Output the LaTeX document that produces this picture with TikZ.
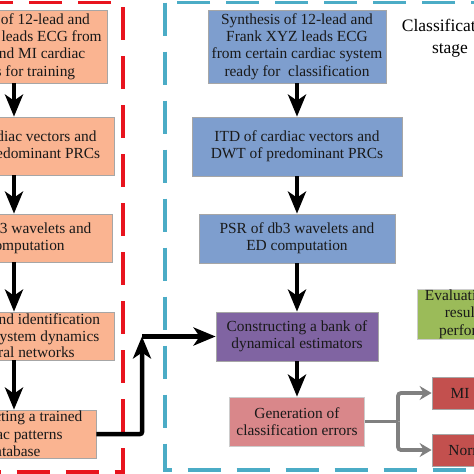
\documentclass[tikz,border=0pt]{standalone}
\usepackage{fontspec}
\setmainfont{Liberation Serif}
\usetikzlibrary{arrows.meta}

\definecolor{trainfill}{HTML}{FAB491}
\definecolor{testfill}{HTML}{7E9ECE}
\definecolor{bankfill}{HTML}{8064A2}
\definecolor{errfill}{HTML}{D9878A}
\definecolor{mifill}{HTML}{C3504E}
\definecolor{evalfill}{HTML}{9BBB59}
\definecolor{trainline}{HTML}{E8141E}
\definecolor{testline}{HTML}{4BACC6}

\tikzset{
	stepbox/.style={draw=black!35, line width=0.8pt, align=center, inner sep=0pt,
		text=black!90, font=\fontsize{15.4}{17.4}\selectfont},
	trainbox/.style={stepbox, fill=trainfill},
	testbox/.style={stepbox, fill=testfill},
	flowarrow/.style={line width=4.5pt, draw=black, rounded corners=2pt,
		-{Stealth[length=22pt, width=18pt, inset=6pt]}},
	outarrow/.style={line width=3.8pt, draw=black!50, rounded corners=3pt,
		-{Stealth[length=12pt, width=14pt, inset=4pt]}},
	stagedash/.style={line width=3.5pt, dash pattern=on 33pt off 16pt}
}

\begin{document}
\begin{tikzpicture}[x=1pt, y=-1pt]
		%%%%% FRAME %%%%%
		\clip (0,0) rectangle (474,474);
		
		\draw[stagedash, color=trainline] (-200, 2.5) rectangle (123, 472);
		\draw[stagedash, color=testline] (165, 2.5) rectangle (700, 470);
		
		%%%%% TRAINING %%%%%
		\node[trainbox, minimum width=186pt, minimum height=73pt] (t1) at (14, 46.5)
			{Synthesis of 12-lead and\\Frank XYZ leads ECG from\\healthy and MI cardiac\\systems for training};
		\node[trainbox, minimum width=200pt, minimum height=58pt] (t2) at (14, 146)
			{ITD of cardiac vectors and\\DWT of predominant PRCs};
		\node[trainbox, minimum width=196pt, minimum height=48pt] (t3) at (14, 238)
			{PSR of db3 wavelets and\\ED computation};
		\node[trainbox, minimum width=200pt, minimum height=48pt,
			font=\fontsize{15.4}{16.6}\selectfont] (t4) at (14, 336)
			{Modeling and identification\\of cardiac system dynamics\\via neural networks};
		\node[trainbox, minimum width=164pt, minimum height=48pt] (t5) at (14, 434)
			{Constructing a trained\\cardiac patterns\\database};
		
		\draw[flowarrow] (t1) -- (t2);
		\draw[flowarrow] (t2) -- (t3);
		\draw[flowarrow] (t3) -- (t4);
		\draw[flowarrow] (t4) -- (t5);
		
		%%%%% CLASSIFICATION %%%%%
		\node[font=\fontsize{17.5}{22}\selectfont, align=center] (stage) at (450, 38)
			{Classification\\stage};
		
		\node[testbox, minimum width=178pt, minimum height=73pt] (c1) at (297, 46.5)
			{Synthesis of 12-lead and\\Frank XYZ leads ECG\\from certain cardiac system\\ready for~~classification};
		\node[testbox, minimum width=210pt, minimum height=59pt] (c2) at (297, 146.5)
			{ITD of cardiac vectors and\\DWT of predominant PRCs};
		\node[testbox, minimum width=196pt, minimum height=49pt] (c3) at (297, 238.5)
			{PSR of db3 wavelets and\\ED computation};
		\node[stepbox, fill=bankfill, minimum width=162pt, minimum height=49pt] (c4) at (297, 336.5)
			{Constructing a bank of\\dynamical estimators};
		\node[stepbox, fill=errfill, draw=black!20, minimum width=135pt, minimum height=49pt] (c5) at (297, 421.5)
			{Generation of\\classification errors};
		
		\node[stepbox, fill=mifill, minimum width=56pt, minimum height=32pt] (mi) at (460, 393) {MI};
		\node[stepbox, fill=mifill, minimum width=80pt, minimum height=32pt] (normal) at (472, 450) {Normal};
		\node[stepbox, fill=evalfill, draw=black!20, minimum width=122pt, minimum height=50pt,
			font=\fontsize{15.4}{17.6}\selectfont] (eval) at (478, 314)
			{Evaluation of the\\results and\\performance};
		
		\draw[flowarrow] (c1) -- (c2);
		\draw[flowarrow] (c2) -- (c3);
		\draw[flowarrow] (c3) -- (c4);
		\draw[flowarrow] (c4) -- (c5);
		
		%%%%% LINKS %%%%%
		\coordinate (bend) at (142, 336.5);
		\draw[flowarrow] (t5.east) -| (bend);
		\draw[flowarrow] (bend) -- (c4.west);
		
		\coordinate (split) at (398, 421.5);
		\draw[line width=3.8pt, draw=black!50] (c5.east) -- (split);
		\draw[outarrow] (split) |- (mi.west);
		\draw[outarrow] (split) |- (normal.west);
		
		%%%%% END %%%%%
\end{tikzpicture}
\end{document}
